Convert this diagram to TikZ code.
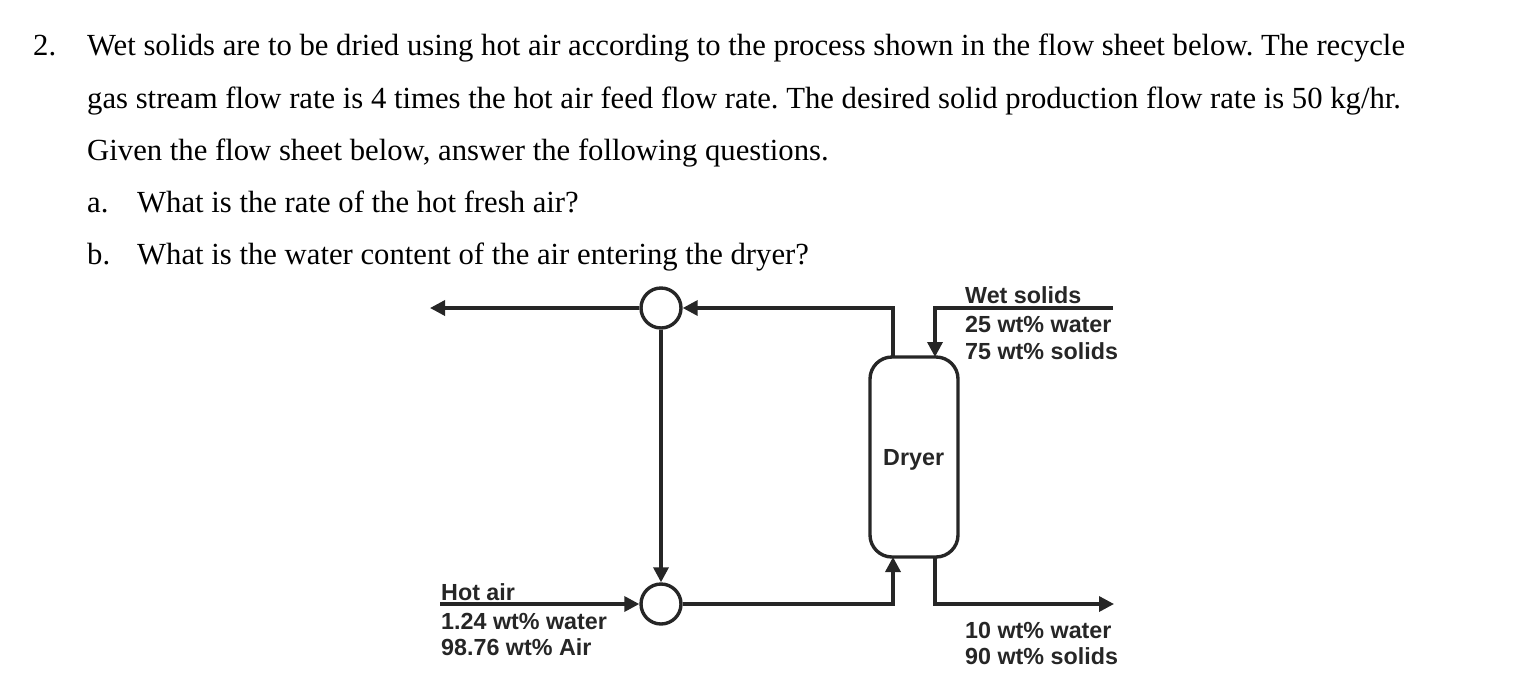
\documentclass[tikz,border=0pt]{standalone}
\usepackage{fontspec}
\setmainfont{Liberation Serif}
\newfontfamily\arial{Liberation Sans}
\usetikzlibrary{arrows.meta}
\frenchspacing
\begin{document}
\begin{tikzpicture}[x=1pt,y=-1pt,
  q/.style={anchor=base west,inner sep=0,font=\fontsize{30.7}{31}\selectfont},
  lab/.style={anchor=base west,inner sep=0,font=\arial\bfseries\fontsize{23.3}{24}\selectfont,text=black!85},
  ln/.style={line width=3.4pt,draw=black!85},
  arr/.style={ln,-{Triangle[length=15pt,width=15pt]}},
  mix/.style={circle,ln,minimum size=40pt,inner sep=0,fill=white}]
\useasboundingbox (0,0) rectangle (1520,689);
\node[q] (n2) at (33,55) {2.};
\node[q] (l1) at (87,55) {Wet solids are to be dried using hot air according to the process shown in the flow sheet below. The recycle};
\node[q] (l2) at (87,108) {gas stream flow rate is 4 times the hot air feed flow rate. The desired solid production flow rate is 50 kg/hr.};
\node[q] (l3) at (87,160) {Given the flow sheet below, answer the following questions.};
\node[q] (a) at (87,212) {a.};
\node[q] (qa) at (137,212) {What is the rate of the hot fresh air?};
\node[q] (b) at (87,264) {b.};
\node[q] (qb) at (137,264) {What is the water content of the air entering the dryer?};

\node[mix] (m1) at (661,308) {};
\node[mix] (m2) at (661,604) {};
\node[ln,rounded corners=22pt,minimum width=88pt,minimum height=200pt,inner sep=0] (d) at (914,457) {};
\node[lab] (dl) at (883,465) {Dryer};
\coordinate (purge) at (430,308);
\coordinate (feedin) at (440,604);
\coordinate (wsin) at (1113,308);
\coordinate (prod) at (1114,604);

\draw[arr] (893,357) -- (893,308) -- (m1.east);
\draw[arr] (m1.west) -- (purge);
\draw[arr] (m1.south) -- (m2.north);
\draw[arr] (wsin) -- (935,308) -- (935,357);
\draw[arr] (feedin) -- (m2.west);
\draw[arr] (m2.east) -- (893,604) -- (893,557);
\draw[arr] (935,557) -- (935,604) -- (prod);

\node[lab] (ws) at (965,303) {Wet solids};
\node[lab] (ws2) at (965,332) {25 wt\% water};
\node[lab] (ws3) at (965,359) {75 wt\% solids};
\node[lab] (ha) at (441,600) {Hot air};
\node[lab] (ha2) at (441,629) {1.24 wt\% water};
\node[lab] (ha3) at (441,655) {98.76 wt\% Air};
\node[lab] (p1) at (965,638) {10 wt\% water};
\node[lab] (p2) at (965,664) {90 wt\% solids};
\end{tikzpicture}
\end{document}
